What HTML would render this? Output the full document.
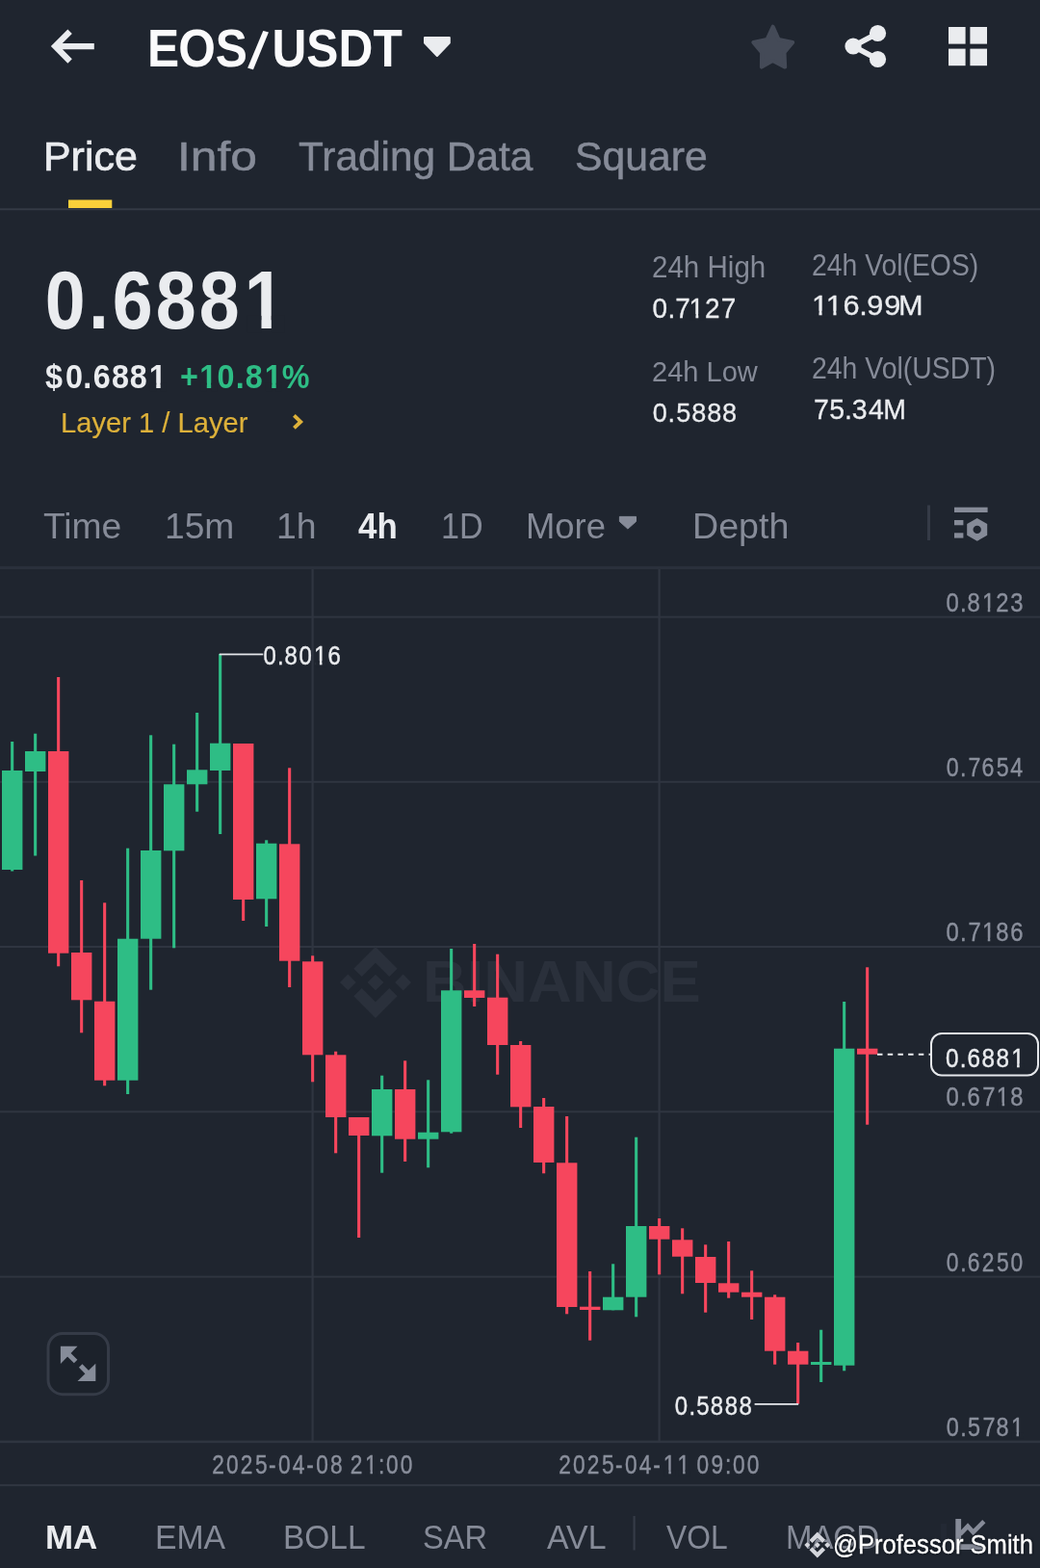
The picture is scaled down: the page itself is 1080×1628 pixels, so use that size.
<!DOCTYPE html>
<html lang="en"><head><meta charset="utf-8"><title>EOS/USDT</title>
<style>
html,body{margin:0;padding:0;background:#1F252F;}
body{width:1080px;height:1628px;position:relative;overflow:hidden;font-family:"Liberation Sans",sans-serif;}
.t{position:absolute;white-space:nowrap;transform-origin:0 0;}

.abs{position:absolute;}
svg{position:absolute;left:0;top:0;}
svg text{font-family:"Liberation Sans",sans-serif;white-space:pre;}
</style></head><body>
<svg width="1080" height="1628" viewBox="0 0 1080 1628">
<!-- dividers -->
<rect x="0" y="216.3" width="1080" height="2" fill="#343A45"/>
<rect x="0" y="587.8" width="1080" height="3.2" fill="#2A303B"/>
<rect x="0" y="1495.6" width="1080" height="2.6" fill="#2F3540"/>
<rect x="0" y="1540.9" width="1080" height="2.2" fill="#2F3540"/>
<rect x="0" y="639.6" width="1080" height="2" fill="#2F3540"/>
<rect x="0" y="810.8" width="1080" height="2" fill="#2F3540"/>
<rect x="0" y="982.0" width="1080" height="2" fill="#2F3540"/>
<rect x="0" y="1153.3" width="1080" height="2" fill="#2F3540"/>
<rect x="0" y="1324.6" width="1080" height="2" fill="#2F3540"/>
<rect x="323.5" y="591" width="2.2" height="905" fill="#2F3540"/>
<rect x="683.5" y="591" width="2.2" height="905" fill="#2F3540"/>
<g transform="translate(353,983) scale(3.0833)" fill="#2A303B"><path d="M16.624 13.9202l2.7175 2.7154-7.353 7.353-7.353-7.352 2.7175-2.7164 4.6355 4.6595 4.6356-4.6595zm4.6366-4.6366L24 12l-2.7154 2.7164L18.5682 12l2.6924-2.7164zm-9.272.001l2.7163 2.6914-2.7164 2.7174v-.001L9.2721 12l2.7164-2.7154zm-9.2722-.001L5.4088 12l-2.6914 2.6924L0 12l2.7164-2.7164zM11.9885.0115l7.353 7.329-2.7174 2.7154-4.6356-4.6356-4.6355 4.6595-2.7174-2.7154 7.353-7.353z"/></g>
</svg>
<div class="t" style="left:438.88px;top:983.00px;font-size:60.29px;line-height:72px;font-weight:700;color:#2A303B;transform:scaleX(1.0511);">BINANCE</div>
<svg width="1080" height="1628" viewBox="0 0 1080 1628">
<rect x="11.1" y="770.0" width="3.1" height="134.5" fill="#2EBD85"/>
<rect x="2.0" y="800.0" width="21.4" height="103.0" fill="#2EBD85"/>
<rect x="35.1" y="761.7" width="3.1" height="126.8" fill="#2EBD85"/>
<rect x="26.0" y="780.0" width="21.4" height="21.0" fill="#2EBD85"/>
<rect x="59.1" y="703.0" width="3.1" height="300.3" fill="#F6465D"/>
<rect x="50.0" y="780.0" width="21.4" height="209.7" fill="#F6465D"/>
<rect x="83.1" y="914.0" width="3.1" height="158.3" fill="#F6465D"/>
<rect x="74.0" y="989.0" width="21.4" height="49.3" fill="#F6465D"/>
<rect x="107.1" y="937.3" width="3.1" height="190.0" fill="#F6465D"/>
<rect x="98.0" y="1039.7" width="21.4" height="82.0" fill="#F6465D"/>
<rect x="131.1" y="880.7" width="3.1" height="255.3" fill="#2EBD85"/>
<rect x="122.0" y="974.7" width="21.4" height="147.0" fill="#2EBD85"/>
<rect x="155.1" y="763.3" width="3.1" height="264.4" fill="#2EBD85"/>
<rect x="146.0" y="883.0" width="21.4" height="91.7" fill="#2EBD85"/>
<rect x="179.1" y="772.7" width="3.1" height="211.6" fill="#2EBD85"/>
<rect x="170.0" y="814.3" width="21.4" height="69.0" fill="#2EBD85"/>
<rect x="203.1" y="740.0" width="3.1" height="102.7" fill="#2EBD85"/>
<rect x="194.0" y="799.3" width="21.4" height="15.0" fill="#2EBD85"/>
<rect x="227.1" y="679.0" width="3.1" height="187.0" fill="#2EBD85"/>
<rect x="218.0" y="771.7" width="21.4" height="28.3" fill="#2EBD85"/>
<rect x="251.1" y="772.0" width="3.1" height="184.0" fill="#F6465D"/>
<rect x="242.0" y="772.0" width="21.4" height="162.0" fill="#F6465D"/>
<rect x="275.1" y="872.3" width="3.1" height="89.7" fill="#2EBD85"/>
<rect x="266.0" y="875.7" width="21.4" height="57.6" fill="#2EBD85"/>
<rect x="299.1" y="797.3" width="3.1" height="227.7" fill="#F6465D"/>
<rect x="290.0" y="876.3" width="21.4" height="121.4" fill="#F6465D"/>
<rect x="323.1" y="992.3" width="3.1" height="131.0" fill="#F6465D"/>
<rect x="314.0" y="998.3" width="21.4" height="97.0" fill="#F6465D"/>
<rect x="347.1" y="1091.7" width="3.1" height="105.6" fill="#F6465D"/>
<rect x="338.0" y="1095.3" width="21.4" height="64.7" fill="#F6465D"/>
<rect x="371.1" y="1160.0" width="3.1" height="125.0" fill="#F6465D"/>
<rect x="362.0" y="1160.0" width="21.4" height="19.0" fill="#F6465D"/>
<rect x="395.1" y="1116.7" width="3.1" height="101.0" fill="#2EBD85"/>
<rect x="386.0" y="1131.0" width="21.4" height="48.3" fill="#2EBD85"/>
<rect x="419.1" y="1101.3" width="3.1" height="104.7" fill="#F6465D"/>
<rect x="410.0" y="1131.0" width="21.4" height="51.7" fill="#F6465D"/>
<rect x="443.1" y="1121.3" width="3.1" height="91.0" fill="#2EBD85"/>
<rect x="434.0" y="1175.7" width="21.4" height="7.0" fill="#2EBD85"/>
<rect x="467.1" y="985.0" width="3.1" height="191.7" fill="#2EBD85"/>
<rect x="458.0" y="1028.3" width="21.4" height="147.0" fill="#2EBD85"/>
<rect x="491.1" y="980.0" width="3.1" height="65.0" fill="#F6465D"/>
<rect x="482.0" y="1028.3" width="21.4" height="7.7" fill="#F6465D"/>
<rect x="515.1" y="990.7" width="3.1" height="125.0" fill="#F6465D"/>
<rect x="506.0" y="1035.7" width="21.4" height="49.3" fill="#F6465D"/>
<rect x="539.1" y="1081.0" width="3.1" height="90.0" fill="#F6465D"/>
<rect x="530.0" y="1085.0" width="21.4" height="64.3" fill="#F6465D"/>
<rect x="563.1" y="1140.0" width="3.1" height="78.3" fill="#F6465D"/>
<rect x="554.0" y="1149.0" width="21.4" height="58.0" fill="#F6465D"/>
<rect x="587.1" y="1159.0" width="3.1" height="205.3" fill="#F6465D"/>
<rect x="578.0" y="1207.3" width="21.4" height="149.7" fill="#F6465D"/>
<rect x="611.1" y="1320.0" width="3.1" height="71.7" fill="#F6465D"/>
<rect x="602.0" y="1356.7" width="21.4" height="3.3" fill="#F6465D"/>
<rect x="635.1" y="1312.3" width="3.1" height="48.0" fill="#2EBD85"/>
<rect x="626.0" y="1346.7" width="21.4" height="13.6" fill="#2EBD85"/>
<rect x="659.1" y="1180.7" width="3.1" height="186.6" fill="#2EBD85"/>
<rect x="650.0" y="1273.0" width="21.4" height="73.7" fill="#2EBD85"/>
<rect x="683.1" y="1265.0" width="3.1" height="58.3" fill="#F6465D"/>
<rect x="674.0" y="1273.0" width="21.4" height="13.7" fill="#F6465D"/>
<rect x="707.1" y="1275.3" width="3.1" height="68.0" fill="#F6465D"/>
<rect x="698.0" y="1287.3" width="21.4" height="17.4" fill="#F6465D"/>
<rect x="731.1" y="1292.3" width="3.1" height="70.4" fill="#F6465D"/>
<rect x="722.0" y="1305.0" width="21.4" height="27.0" fill="#F6465D"/>
<rect x="755.1" y="1289.0" width="3.1" height="58.7" fill="#F6465D"/>
<rect x="746.0" y="1332.3" width="21.4" height="9.4" fill="#F6465D"/>
<rect x="779.1" y="1319.3" width="3.1" height="50.7" fill="#F6465D"/>
<rect x="770.0" y="1341.7" width="21.4" height="5.0" fill="#F6465D"/>
<rect x="803.1" y="1344.3" width="3.1" height="72.4" fill="#F6465D"/>
<rect x="794.0" y="1346.7" width="21.4" height="56.0" fill="#F6465D"/>
<rect x="827.1" y="1394.0" width="3.1" height="63.7" fill="#F6465D"/>
<rect x="818.0" y="1402.7" width="21.4" height="14.0" fill="#F6465D"/>
<rect x="851.1" y="1380.7" width="3.1" height="54.3" fill="#2EBD85"/>
<rect x="842.0" y="1414.0" width="21.4" height="3.0" fill="#2EBD85"/>
<rect x="875.1" y="1040.0" width="3.1" height="383.3" fill="#2EBD85"/>
<rect x="866.0" y="1088.7" width="21.4" height="329.0" fill="#2EBD85"/>
<rect x="899.1" y="1004.3" width="3.1" height="163.4" fill="#F6465D"/>
<rect x="890.0" y="1088.7" width="21.4" height="6.0" fill="#F6465D"/>
<rect x="227.8" y="678.5" width="45.5" height="1.8" fill="#E2E4E8"/>
<rect x="783.6" y="1457" width="45.5" height="1.8" fill="#E2E4E8"/>
<line x1="911" y1="1094.7" x2="966" y2="1094.7" stroke="#EAECEF" stroke-width="2" stroke-dasharray="5.5 5.2"/>
<!-- back arrow -->
<path d="M72.6 32.8 L57.3 48.1 L72.6 63.4 M57.3 48.1 L97.8 48.1" fill="none" stroke="#EAECEF" stroke-width="6.3" stroke-linejoin="miter"/>
<!-- dropdown -->
<path d="M441 39 L466.8 39 L466.8 44.6 L453.9 58 L441 44.6 Z" fill="#EAECEF" stroke="#EAECEF" stroke-width="2" stroke-linejoin="round"/>
<!-- yellow tab underline -->
<rect x="71" y="207.5" width="45.3" height="8.5" fill="#FAD03A"/>
<!-- star -->
<path transform="translate(802.7,50)" d="M0,-22.3 L5.9,-9 L20.5,-6 L11.8,4.5 L12.5,19.6 L-0.3,13 L-11.8,19.6 L-11.6,4.5 L-20.4,-6 L-6.2,-9 Z" fill="#444A57" stroke="#444A57" stroke-width="4" stroke-linejoin="round"/>
<!-- share -->
<g fill="#EAECEF" stroke="#EAECEF"><circle cx="886" cy="48" r="8.6" stroke="none"/><circle cx="911.5" cy="34.5" r="8.6" stroke="none"/><circle cx="911.5" cy="61.5" r="8.6" stroke="none"/><path d="M911.5 34.5 L886 48 L911.5 61.5" fill="none" stroke-width="5.6"/></g>
<!-- grid icon -->
<g fill="#EAECEF"><rect x="985" y="28" width="17.6" height="17.6"/><rect x="1007.4" y="28" width="17.6" height="17.6"/><rect x="985" y="50.6" width="17.6" height="17.6"/><rect x="1007.4" y="50.6" width="17.6" height="17.6"/></g>
<!-- chevron -->
<path d="M305.4 431.4 L312.2 437.9 L305.4 444.4" fill="none" stroke="#DDB13A" stroke-width="3.9"/>
<!-- more triangle -->
<path d="M643.4 536.4 L660.5 536.4 L660.5 541.4 L651.95 549.1 L643.4 541.4 Z" fill="#868B98" stroke="#868B98" stroke-width="1" stroke-linejoin="round"/>
<!-- separator + settings icon -->
<rect x="963" y="524.5" width="3" height="36.5" fill="#353B47"/>
<g fill="#868B98"><rect x="991" y="526.7" width="34.6" height="5.3"/><rect x="991" y="540" width="9.4" height="5.3"/><rect x="991" y="553.3" width="9.4" height="5.3"/>
<path d="M1014.7 538 L1025.2 544 L1025.2 555.8 L1014.7 561.8 L1004.2 555.8 L1004.2 544 Z"/></g>
<circle cx="1014.7" cy="549.9" r="4.2" fill="#1F252F"/>
<!-- price tag box -->
<rect x="967" y="1073" width="111" height="43.5" rx="11" ry="11" fill="#1F252F" stroke="#E6E8EC" stroke-width="2"/>
<!-- expand button -->
<rect x="50" y="1384.5" width="62.5" height="63.2" rx="15" ry="15" fill="#1C222B" stroke="#353B47" stroke-width="3"/>
<g fill="#868C99" stroke="#868C99"><path d="M62.9 1397.8 L80.5 1397.8 L62.9 1416.1 Z" stroke="none"/><path d="M99.3 1415.8 L99.3 1433.9 L80.5 1433.9 Z" stroke="none"/><path d="M69 1404 L78.6 1413.5 M83.7 1418.1 L93 1427.5" stroke-width="5" fill="none"/></g>
<!-- bottom separators -->
<rect x="657.5" y="1574" width="2.2" height="35.5" fill="#353B47"/>
<rect x="977" y="1582" width="6" height="17" fill="#232934"/>
<!-- chart icon -->
<path d="M995.2 1577 L995.2 1606.1 L1022.2 1606.1" fill="none" stroke="#868B98" stroke-width="5.8"/>
<path d="M997 1593 L1005 1584.6 L1010.6 1590.8 L1021.8 1579.6" fill="none" stroke="#868B98" stroke-width="4.6"/>
</svg>
<div class="t" style="left:45.37px;top:137.00px;font-size:42.46px;line-height:51px;font-weight:400;color:#EAECEF;transform:scaleX(1.0108);-webkit-text-stroke:0.7px #EAECEF;">Price</div>
<div class="t" style="left:183.82px;top:137.00px;font-size:42.46px;line-height:51px;font-weight:400;color:#868B98;transform:scaleX(1.1721);-webkit-text-stroke:0.5px #868B98;">Info</div>
<div class="t" style="left:309.84px;top:137.00px;font-size:42.46px;line-height:51px;font-weight:400;color:#868B98;transform:scaleX(0.9980);-webkit-text-stroke:0.5px #868B98;">Trading Data</div>
<div class="t" style="left:597.08px;top:137.00px;font-size:42.46px;line-height:51px;font-weight:400;color:#868B98;transform:scaleX(1.0066);-webkit-text-stroke:0.5px #868B98;">Square</div>
<div class="t" style="left:62.67px;top:421.00px;font-size:30.14px;line-height:36px;font-weight:400;color:#DDB13A;transform:scaleX(0.9672);-webkit-text-stroke:0.2px #DDB13A;">Layer 1 / Layer</div>
<div class="t" style="left:677.02px;top:259.00px;font-size:30.58px;line-height:37px;font-weight:400;color:#868B98;transform:scaleX(0.9663);">24h High</div>
<div class="t" style="left:677.05px;top:368.00px;font-size:29.57px;line-height:35px;font-weight:400;color:#868B98;transform:scaleX(0.9826);">24h Low</div>
<div class="t" style="left:842.98px;top:257.00px;font-size:30.72px;line-height:37px;font-weight:400;color:#868B98;transform:scaleX(0.9222);">24h Vol(EOS)</div>
<div class="t" style="left:842.98px;top:364.00px;font-size:30.58px;line-height:37px;font-weight:400;color:#868B98;transform:scaleX(0.9291);">24h Vol(USDT)</div>
<div class="t" style="left:45.27px;top:524.00px;font-size:37.54px;line-height:45px;font-weight:400;color:#868B98;transform:scaleX(0.9913);">Time</div>
<div class="t" style="left:170.71px;top:524.00px;font-size:37.54px;line-height:45px;font-weight:400;color:#868B98;transform:scaleX(0.9904);">15m</div>
<div class="t" style="left:287.19px;top:524.00px;font-size:37.54px;line-height:45px;font-weight:400;color:#868B98;transform:scaleX(0.9970);">1h</div>
<div class="t" style="left:372.08px;top:524.00px;font-size:37.54px;line-height:45px;font-weight:700;color:#EAECEF;transform:scaleX(0.9288);">4h</div>
<div class="t" style="left:457.94px;top:524.00px;font-size:37.54px;line-height:45px;font-weight:400;color:#868B98;transform:scaleX(0.9111);">1D</div>
<div class="t" style="left:546.09px;top:524.00px;font-size:37.54px;line-height:45px;font-weight:400;color:#868B98;transform:scaleX(0.9704);">More</div>
<div class="t" style="left:719.49px;top:524.00px;font-size:37.54px;line-height:45px;font-weight:400;color:#868B98;transform:scaleX(1.0023);">Depth</div>
<div class="t" style="left:47.13px;top:1575.00px;font-size:34.78px;line-height:42px;font-weight:700;color:#EAECEF;transform:scaleX(1.0043);">MA</div>
<div class="t" style="left:160.60px;top:1575.00px;font-size:34.78px;line-height:42px;font-weight:400;color:#868B98;transform:scaleX(0.9707);">EMA</div>
<div class="t" style="left:293.52px;top:1575.00px;font-size:34.78px;line-height:42px;font-weight:400;color:#868B98;transform:scaleX(0.9630);">BOLL</div>
<div class="t" style="left:439.13px;top:1575.00px;font-size:34.78px;line-height:42px;font-weight:400;color:#868B98;transform:scaleX(0.9373);">SAR</div>
<div class="t" style="left:567.83px;top:1575.00px;font-size:34.78px;line-height:42px;font-weight:400;color:#868B98;transform:scaleX(0.9739);">AVL</div>
<div class="t" style="left:691.64px;top:1575.00px;font-size:34.78px;line-height:42px;font-weight:400;color:#868B98;transform:scaleX(0.9144);">VOL</div>
<div class="t" style="left:815.67px;top:1575.00px;font-size:34.78px;line-height:42px;font-weight:400;color:#868B98;transform:scaleX(0.9468);">MACD</div>
<svg class="txt" width="1080" height="1628" viewBox="0 0 1080 1628">
<text transform="scale(0.8832,1)" rotate="0.0 0.0 0.0 14.5 0.0 0.0 0.0 0.0" x="173.21 209.69 253.28 291.09 319.81 360.39 398.08 438.89" y="69.30" font-size="56.23" font-weight="700" fill="#FAFAFB">EOS/USDT</text>
<text transform="scale(0.8829,1)" x="52.88 104.32 132.17 183.09 234.06 287.44" y="340.75" font-size="85.35" font-weight="700" fill="#EAECEF">0.6881</text>
<text transform="scale(0.9071,1)" x="51.85 75.00 95.22 106.64 128.02 148.64 170.52" y="403.34" font-size="35.63" font-weight="700" fill="#EAECEF">$0.6881</text>
<text transform="scale(0.9071,1)" x="206.09 228.39 248.68 269.84 280.82 302.81 322.70" y="403.34" font-size="35.63" font-weight="700" fill="#2EBD85">+10.81%</text>
<text transform="scale(0.9768,1)" x="693.61 709.95 717.82 732.62 749.41 766.61" y="329.81" font-size="28.59" fill="#EAECEF" stroke="#EAECEF" stroke-width="0.3">0.7127</text>
<text transform="scale(0.9509,1)" x="712.77 729.42 738.43 755.45 772.22 788.79" y="437.52" font-size="28.45" fill="#EAECEF" stroke="#EAECEF" stroke-width="0.3">0.5888</text>
<text transform="scale(1.0586,1)" x="796.26 810.34 826.93 842.87 850.52 867.43 881.43" y="326.61" font-size="29.01" fill="#EAECEF" stroke="#EAECEF" stroke-width="0.3">116.99M</text>
<text transform="scale(0.9839,1)" x="858.91 875.37 891.41 899.28 916.76 932.23" y="435.01" font-size="28.87" fill="#EAECEF" stroke="#EAECEF" stroke-width="0.3">75.34M</text>
<text transform="scale(0.8816,1)" x="1114.44 1130.95 1139.46 1156.95 1173.26 1190.25" y="635.03" font-size="27.04" fill="#8A8F9C" stroke="#8A8F9C" stroke-width="0.4">0.8123</text>
<text transform="scale(0.8548,1)" x="1149.59 1166.50 1176.40 1192.79 1210.61 1227.43" y="806.17" font-size="27.04" fill="#8A8F9C" stroke="#8A8F9C" stroke-width="0.4">0.7654</text>
<text transform="scale(0.8801,1)" x="1116.34 1132.88 1142.39 1158.93 1175.20 1192.10" y="977.31" font-size="27.04" fill="#8A8F9C" stroke="#8A8F9C" stroke-width="0.4">0.7186</text>
<text transform="scale(0.8801,1)" x="1116.34 1132.88 1141.41 1159.28 1175.82 1192.10" y="1148.45" font-size="27.04" fill="#8A8F9C" stroke="#8A8F9C" stroke-width="0.4">0.6718</text>
<text transform="scale(0.8456,1)" x="1162.20 1179.26 1188.29 1205.95 1223.89 1241.06" y="1319.59" font-size="27.04" fill="#8A8F9C" stroke="#8A8F9C" stroke-width="0.4">0.6250</text>
<text transform="scale(0.8659,1)" x="1134.84 1151.58 1160.73 1178.48 1194.66 1212.50" y="1490.73" font-size="27.04" fill="#8A8F9C" stroke="#8A8F9C" stroke-width="0.4">0.5781</text>
<text transform="scale(0.8975,1)" x="1094.16 1110.63 1119.09 1135.90 1152.70 1170.12" y="1107.93" font-size="27.04" fill="#EAECEF" stroke="#EAECEF" stroke-width="0.4">0.6881</text>
<text transform="scale(0.8860,1)" x="308.58 325.11 333.64 350.55 368.06 384.33" y="689.93" font-size="27.04" fill="#EAECEF" stroke="#EAECEF" stroke-width="0.4">0.8016</text>
<text transform="scale(0.8856,1)" x="791.37 807.84 816.71 833.11 849.92 866.72" y="1468.93" font-size="27.04" fill="#EAECEF" stroke="#EAECEF" stroke-width="0.4">0.5888</text>
<text transform="scale(0.8390,1)" x="262.64 280.17 297.81 315.75 332.53 344.51 361.93 379.29 391.27 408.85 422.37 433.48 451.72 468.30 478.05 495.64" y="1530.03" font-size="27.04" fill="#8A8F9C" stroke="#8A8F9C" stroke-width="0.4">2025-04-08 21:00</text>
<text transform="scale(0.8390,1)" x="691.71 709.24 726.88 744.82 761.60 773.58 791.00 808.36 821.06 838.65 852.17 862.49 880.08 897.37 907.12 924.71" y="1530.03" font-size="27.04" fill="#8A8F9C" stroke="#8A8F9C" stroke-width="0.4">2025-04-11 09:00</text>
<rect x="256.78" y="327.87" width="14.69" height="17.14" fill="#1F252F"/>
<rect x="281.80" y="327.87" width="14.17" height="17.14" fill="#1F252F"/>
<rect x="155.97" y="397.68" width="6.30" height="8.44" fill="#1F252F"/>
<rect x="166.70" y="397.68" width="6.08" height="8.44" fill="#1F252F"/>
<rect x="208.47" y="397.68" width="6.30" height="8.44" fill="#1F252F"/>
<rect x="219.20" y="397.68" width="6.08" height="8.44" fill="#1F252F"/>
<rect x="275.97" y="397.68" width="6.30" height="8.44" fill="#1F252F"/>
<rect x="286.70" y="397.68" width="6.08" height="8.44" fill="#1F252F"/>
<rect x="716.85" y="326.03" width="5.59" height="6.35" fill="#1F252F"/>
<rect x="725.30" y="326.03" width="5.53" height="6.35" fill="#1F252F"/>
<rect x="844.32" y="322.77" width="6.14" height="6.41" fill="#1F252F"/>
<rect x="853.60" y="322.77" width="6.08" height="6.41" fill="#1F252F"/>
<rect x="859.22" y="322.77" width="6.14" height="6.41" fill="#1F252F"/>
<rect x="868.50" y="322.77" width="6.08" height="6.41" fill="#1F252F"/>
<rect x="1020.95" y="631.42" width="4.77" height="6.12" fill="#1F252F"/>
<rect x="1028.29" y="631.42" width="4.72" height="6.12" fill="#1F252F"/>
<rect x="1020.96" y="973.70" width="4.76" height="6.12" fill="#1F252F"/>
<rect x="1028.29" y="973.70" width="4.71" height="6.12" fill="#1F252F"/>
<rect x="1035.83" y="1144.84" width="4.76" height="6.12" fill="#1F252F"/>
<rect x="1043.16" y="1144.84" width="4.71" height="6.12" fill="#1F252F"/>
<rect x="1050.82" y="1487.12" width="4.68" height="6.12" fill="#1F252F"/>
<rect x="1058.03" y="1487.12" width="4.64" height="6.12" fill="#1F252F"/>
<rect x="1051.23" y="1104.32" width="4.85" height="6.12" fill="#1F252F"/>
<rect x="1058.70" y="1104.32" width="4.81" height="6.12" fill="#1F252F"/>
<rect x="327.08" y="686.32" width="4.79" height="6.12" fill="#1F252F"/>
<rect x="334.46" y="686.32" width="4.74" height="6.12" fill="#1F252F"/>
<rect x="379.94" y="1526.42" width="4.54" height="6.12" fill="#1F252F"/>
<rect x="386.93" y="1526.42" width="4.49" height="6.12" fill="#1F252F"/>
<rect x="689.82" y="1526.42" width="4.54" height="6.12" fill="#1F252F"/>
<rect x="696.81" y="1526.42" width="4.49" height="6.12" fill="#1F252F"/>
<rect x="704.57" y="1526.42" width="4.54" height="6.12" fill="#1F252F"/>
<rect x="711.57" y="1526.42" width="4.49" height="6.12" fill="#1F252F"/>
</svg>
<svg width="1080" height="1628" viewBox="0 0 1080 1628">
<!-- small binance logo -->
<g transform="translate(835.3,1590.6) scale(1.1250)" fill="#D4D6DC" stroke="#1a1f28" stroke-width="0.6" paint-order="stroke"><path d="M16.624 13.9202l2.7175 2.7154-7.353 7.353-7.353-7.352 2.7175-2.7164 4.6355 4.6595 4.6356-4.6595zm4.6366-4.6366L24 12l-2.7154 2.7164L18.5682 12l2.6924-2.7164zm-9.272.001l2.7163 2.6914-2.7164 2.7174v-.001L9.2721 12l2.7164-2.7154zm-9.2722-.001L5.4088 12l-2.6914 2.6924L0 12l2.7164-2.7164zM11.9885.0115l7.353 7.329-2.7174 2.7154-4.6356-4.6356-4.6355 4.6595-2.7174-2.7154 7.353-7.353z"/></g>
</svg>
<div class="t" style="left:865.45px;top:1587.00px;font-size:27.25px;line-height:33px;font-weight:400;color:#FFFFFF;transform:scaleX(0.9386);-webkit-text-stroke:0.3px #FFFFFF;text-shadow:0 0 1.5px rgba(20,24,32,.9),0 0 3px rgba(20,24,32,.7),1px 1px 2px rgba(20,24,32,.7);">@Professor Smith</div>
</body></html>
